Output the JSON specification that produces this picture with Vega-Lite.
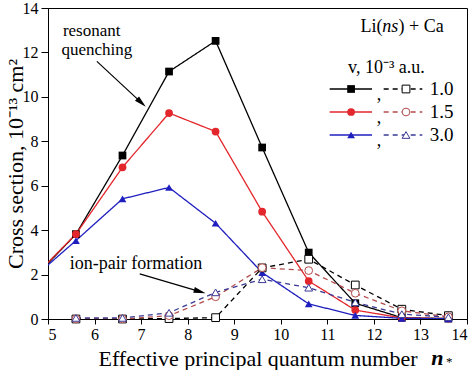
{
  "$schema": "https://vega.github.io/schema/vega-lite/v6.json",
  "width": 419,
  "height": 311,
  "autosize": {"type": "none"},
  "padding": {"left": 48, "top": 8, "right": 7, "bottom": 51},
  "config": {
    "font": "Liberation Serif",
    "view": {"stroke": "#000", "strokeWidth": 1},
    "axis": {
      "grid": false,
      "domainColor": "#000",
      "domainWidth": 1,
      "tickColor": "#000",
      "tickWidth": 1,
      "labelFont": "Liberation Serif",
      "labelFontSize": 16,
      "labelColor": "#000",
      "titleFont": "Liberation Serif",
      "titleFontSize": 22,
      "titleFontWeight": "normal",
      "titleColor": "#000"
    },
    "text": {"font": "Liberation Serif", "fontSize": 18, "color": "#000"}
  },
  "datasets": {
    "curves": [
      {"n": 4.6, "sigma": 1.62, "v": "1.0", "process": "quench", "series": "q1.0"},
      {"n": 5.6, "sigma": 3.82, "v": "1.0", "process": "quench", "series": "q1.0"},
      {"n": 6.6, "sigma": 7.36, "v": "1.0", "process": "quench", "series": "q1.0"},
      {"n": 7.6, "sigma": 11.14, "v": "1.0", "process": "quench", "series": "q1.0"},
      {"n": 8.6, "sigma": 12.52, "v": "1.0", "process": "quench", "series": "q1.0"},
      {"n": 9.6, "sigma": 7.72, "v": "1.0", "process": "quench", "series": "q1.0"},
      {"n": 10.6, "sigma": 2.99, "v": "1.0", "process": "quench", "series": "q1.0"},
      {"n": 11.6, "sigma": 0.71, "v": "1.0", "process": "quench", "series": "q1.0"},
      {"n": 12.6, "sigma": 0.06, "v": "1.0", "process": "quench", "series": "q1.0"},
      {"n": 13.6, "sigma": 0.02, "v": "1.0", "process": "quench", "series": "q1.0"},
      {"n": 4.6, "sigma": 1.7, "v": "1.5", "process": "quench", "series": "q1.5"},
      {"n": 5.6, "sigma": 3.82, "v": "1.5", "process": "quench", "series": "q1.5"},
      {"n": 6.6, "sigma": 6.83, "v": "1.5", "process": "quench", "series": "q1.5"},
      {"n": 7.6, "sigma": 9.27, "v": "1.5", "process": "quench", "series": "q1.5"},
      {"n": 8.6, "sigma": 8.44, "v": "1.5", "process": "quench", "series": "q1.5"},
      {"n": 9.6, "sigma": 4.83, "v": "1.5", "process": "quench", "series": "q1.5"},
      {"n": 10.6, "sigma": 1.71, "v": "1.5", "process": "quench", "series": "q1.5"},
      {"n": 11.6, "sigma": 0.4, "v": "1.5", "process": "quench", "series": "q1.5"},
      {"n": 12.6, "sigma": 0.05, "v": "1.5", "process": "quench", "series": "q1.5"},
      {"n": 13.6, "sigma": 0.02, "v": "1.5", "process": "quench", "series": "q1.5"},
      {"n": 4.6, "sigma": 1.7, "v": "3.0", "process": "quench", "series": "q3.0"},
      {"n": 5.6, "sigma": 3.53, "v": "3.0", "process": "quench", "series": "q3.0"},
      {"n": 6.6, "sigma": 5.41, "v": "3.0", "process": "quench", "series": "q3.0"},
      {"n": 7.6, "sigma": 5.92, "v": "3.0", "process": "quench", "series": "q3.0"},
      {"n": 8.6, "sigma": 4.31, "v": "3.0", "process": "quench", "series": "q3.0"},
      {"n": 9.6, "sigma": 2.09, "v": "3.0", "process": "quench", "series": "q3.0"},
      {"n": 10.6, "sigma": 0.68, "v": "3.0", "process": "quench", "series": "q3.0"},
      {"n": 11.6, "sigma": 0.16, "v": "3.0", "process": "quench", "series": "q3.0"},
      {"n": 12.6, "sigma": 0.03, "v": "3.0", "process": "quench", "series": "q3.0"},
      {"n": 13.6, "sigma": 0.01, "v": "3.0", "process": "quench", "series": "q3.0"},
      {"n": 5.6, "sigma": 0.0, "v": "1.0", "process": "ion", "series": "i1.0"},
      {"n": 6.6, "sigma": 0.0, "v": "1.0", "process": "ion", "series": "i1.0"},
      {"n": 7.6, "sigma": 0.02, "v": "1.0", "process": "ion", "series": "i1.0"},
      {"n": 8.6, "sigma": 0.06, "v": "1.0", "process": "ion", "series": "i1.0"},
      {"n": 9.6, "sigma": 2.3, "v": "1.0", "process": "ion", "series": "i1.0"},
      {"n": 10.6, "sigma": 2.69, "v": "1.0", "process": "ion", "series": "i1.0"},
      {"n": 11.6, "sigma": 1.53, "v": "1.0", "process": "ion", "series": "i1.0"},
      {"n": 12.6, "sigma": 0.44, "v": "1.0", "process": "ion", "series": "i1.0"},
      {"n": 13.6, "sigma": 0.15, "v": "1.0", "process": "ion", "series": "i1.0"},
      {"n": 5.6, "sigma": 0.0, "v": "1.5", "process": "ion", "series": "i1.5"},
      {"n": 6.6, "sigma": 0.0, "v": "1.5", "process": "ion", "series": "i1.5"},
      {"n": 7.6, "sigma": 0.15, "v": "1.5", "process": "ion", "series": "i1.5"},
      {"n": 8.6, "sigma": 1.0, "v": "1.5", "process": "ion", "series": "i1.5"},
      {"n": 9.6, "sigma": 2.31, "v": "1.5", "process": "ion", "series": "i1.5"},
      {"n": 10.6, "sigma": 2.18, "v": "1.5", "process": "ion", "series": "i1.5"},
      {"n": 11.6, "sigma": 1.16, "v": "1.5", "process": "ion", "series": "i1.5"},
      {"n": 12.6, "sigma": 0.37, "v": "1.5", "process": "ion", "series": "i1.5"},
      {"n": 13.6, "sigma": 0.1, "v": "1.5", "process": "ion", "series": "i1.5"},
      {"n": 5.6, "sigma": 0.05, "v": "3.0", "process": "ion", "series": "i3.0"},
      {"n": 6.6, "sigma": 0.05, "v": "3.0", "process": "ion", "series": "i3.0"},
      {"n": 7.6, "sigma": 0.28, "v": "3.0", "process": "ion", "series": "i3.0"},
      {"n": 8.6, "sigma": 1.2, "v": "3.0", "process": "ion", "series": "i3.0"},
      {"n": 9.6, "sigma": 1.79, "v": "3.0", "process": "ion", "series": "i3.0"},
      {"n": 10.6, "sigma": 1.41, "v": "3.0", "process": "ion", "series": "i3.0"},
      {"n": 11.6, "sigma": 0.75, "v": "3.0", "process": "ion", "series": "i3.0"},
      {"n": 12.6, "sigma": 0.22, "v": "3.0", "process": "ion", "series": "i3.0"},
      {"n": 13.6, "sigma": 0.08, "v": "3.0", "process": "ion", "series": "i3.0"}
    ],
    "legendRows": [
      {"v": "1.0", "qs": "q1.0", "is": "i1.0"},
      {"v": "1.5", "qs": "q1.5", "is": "i1.5"},
      {"v": "3.0", "qs": "q3.0", "is": "i3.0"}
    ]
  },
  "layer": [
    {
      "layer": [
        {
          "data": {"name": "curves"},
          "mark": {"type": "line", "clip": true, "strokeWidth": 1.3},
          "encoding": {
            "x": {
              "field": "n", "type": "quantitative",
              "scale": {"domain": [5, 14], "nice": false, "zero": false},
              "axis": {
                "values": [5, 6, 7, 8, 9, 10, 11, 12, 13, 14],
                "tickSize": 5, "labelPadding": 2,
                "labelFont": "Liberation Serif", "labelFontSize": 16,
                "titleFont": "Liberation Serif",
                "title": "Effective principal quantum number",
                "titleBaseline": "alphabetic", "titleY": 46
              }
            },
            "y": {
              "field": "sigma", "type": "quantitative",
              "scale": {"domain": [0, 14], "nice": false},
              "axis": {
                "values": [0, 1, 2, 3, 4, 5, 6, 7, 8, 9, 10, 11, 12, 13, 14],
                "labelExpr": "datum.value % 2 === 0 ? datum.label : ''",
                "tickSize": {"condition": {"test": "datum.value % 2 !== 0", "value": 4}, "value": 7},
                "labelPadding": 3,
                "labelFont": "Liberation Serif", "labelFontSize": 16,
                "titleFont": "Liberation Serif",
                "title": "Cross section, 10⁻¹³ cm²",
                "titleBaseline": "alphabetic", "titleX": -26
              }
            },
            "color": {
              "field": "series", "type": "nominal",
              "scale": {"domain": ["q1.0", "q1.5", "q3.0", "i1.0", "i1.5", "i3.0"], "range": ["#000000", "#e3262b", "#1f1fbf", "#000000", "#b24a4a", "#3a3a96"]},
              "legend": null
            },
            "strokeDash": {
              "field": "process", "type": "nominal",
              "scale": {"domain": ["quench", "ion"], "range": [[1, 0], [5, 4]]},
              "legend": null
            }
          }
        },
        {
          "data": {"name": "curves"},
          "transform": [{"filter": "datum.process === 'quench' && datum.n >= 5"}],
          "mark": {"type": "point", "filled": true, "opacity": 1, "size": 60},
          "encoding": {
            "x": {"field": "n", "type": "quantitative"},
            "y": {"field": "sigma", "type": "quantitative"},
            "color": {
              "field": "series", "type": "nominal",
              "scale": {"domain": ["q1.0", "q1.5", "q3.0", "i1.0", "i1.5", "i3.0"], "range": ["#000000", "#e3262b", "#1f1fbf", "#000000", "#b24a4a", "#3a3a96"]},
              "legend": null
            },
            "shape": {
              "field": "v", "type": "nominal",
              "scale": {"domain": ["1.0", "1.5", "3.0"], "range": ["square", "circle", "triangle-up"]},
              "legend": null
            }
          }
        },
        {
          "data": {"name": "curves"},
          "transform": [{"filter": "datum.process === 'ion'"}],
          "mark": {"type": "point", "filled": false, "fill": "white", "fillOpacity": 1, "opacity": 1, "size": 60, "strokeWidth": 1},
          "encoding": {
            "x": {"field": "n", "type": "quantitative"},
            "y": {"field": "sigma", "type": "quantitative"},
            "color": {
              "field": "series", "type": "nominal",
              "scale": {"domain": ["q1.0", "q1.5", "q3.0", "i1.0", "i1.5", "i3.0"], "range": ["#000000", "#e3262b", "#1f1fbf", "#000000", "#b24a4a", "#3a3a96"]},
              "legend": null
            },
            "shape": {
              "field": "v", "type": "nominal",
              "scale": {"domain": ["1.0", "1.5", "3.0"], "range": ["square", "circle", "triangle-up"]},
              "legend": null
            }
          }
        },
        {
          "data": {"values": [{}]},
          "mark": {"type": "rule", "strokeWidth": 1.2, "color": "#000"},
          "encoding": {"x": {"datum": 6.05}, "y": {"datum": 11.6}, "x2": {"datum": 7.05}, "y2": {"datum": 9.65}}
        },
        {
          "data": {"values": [{}]},
          "mark": {"type": "point", "shape": "M0,0L0.6,2.4L-0.6,2.4Z", "filled": true, "color": "#000", "opacity": 1, "size": 100, "angle": 133},
          "encoding": {"x": {"datum": 7.1}, "y": {"datum": 9.55}}
        },
        {
          "data": {"values": [{}]},
          "mark": {"type": "rule", "strokeWidth": 1.2, "color": "#000"},
          "encoding": {"x": {"datum": 6.97}, "y": {"datum": 2.03}, "x2": {"datum": 8.3}, "y2": {"datum": 1.21}}
        },
        {
          "data": {"values": [{}]},
          "mark": {"type": "point", "shape": "M0,0L0.6,2.4L-0.6,2.4Z", "filled": true, "color": "#000", "opacity": 1, "size": 100, "angle": 106},
          "encoding": {"x": {"datum": 8.385}, "y": {"datum": 1.16}}
        },
        {
          "data": {"values": [{}]},
          "mark": {"type": "text", "text": "resonant", "align": "left", "baseline": "alphabetic", "fontSize": 17},
          "encoding": {"x": {"datum": 5.32}, "y": {"datum": 12.72}}
        },
        {
          "data": {"values": [{}]},
          "mark": {"type": "text", "text": "quenching", "align": "left", "baseline": "alphabetic", "fontSize": 17},
          "encoding": {"x": {"datum": 5.29}, "y": {"datum": 11.88}}
        },
        {
          "data": {"values": [{}]},
          "mark": {"type": "text", "text": "ion-pair formation", "align": "left", "baseline": "alphabetic"},
          "encoding": {"x": {"datum": 5.467}, "y": {"datum": 2.24}}
        },
        {
          "data": {"values": [{}]},
          "mark": {"type": "text", "text": "Li(", "align": "left", "baseline": "alphabetic"},
          "encoding": {"x": {"datum": 11.71}, "y": {"datum": 12.91}}
        },
        {
          "data": {"values": [{}]},
          "mark": {"type": "text", "text": "ns", "align": "left", "baseline": "alphabetic", "fontStyle": "italic"},
          "encoding": {"x": {"datum": 12.18}, "y": {"datum": 12.91}}
        },
        {
          "data": {"values": [{}]},
          "mark": {"type": "text", "text": ") + Ca", "align": "left", "baseline": "alphabetic"},
          "encoding": {"x": {"datum": 12.53}, "y": {"datum": 12.91}}
        },
        {
          "data": {"values": [{}]},
          "mark": {"type": "text", "text": "v, 10⁻³ a.u.", "align": "left", "baseline": "alphabetic"},
          "encoding": {"x": {"datum": 11.445}, "y": {"datum": 11.09}}
        },
        {
          "data": {"values": [{}]},
          "mark": {"type": "text", "text": "n", "align": "left", "baseline": "alphabetic", "fontSize": 22, "fontStyle": "italic", "fontWeight": "bold"},
          "encoding": {"x": {"datum": 13.23}, "y": {"datum": -2.07}}
        },
        {
          "data": {"values": [{}]},
          "mark": {"type": "text", "text": "*", "align": "left", "baseline": "alphabetic", "fontSize": 13},
          "encoding": {"x": {"datum": 13.55}, "y": {"datum": -2.12}}
        }
      ]
    },
    {
      "data": {"name": "legendRows"},
      "encoding": {
        "y": {
          "field": "v", "type": "ordinal",
          "scale": {"type": "point", "domain": ["1.0", "1.5", "3.0"], "range": [81, 127], "padding": 0},
          "axis": null
        }
      },
      "layer": [
        {
          "mark": {"type": "rule", "strokeWidth": 1.3},
          "encoding": {
            "x": {"datum": 11.05}, "x2": {"datum": 11.96},
            "color": {
              "field": "qs", "type": "nominal",
              "scale": {"domain": ["q1.0", "q1.5", "q3.0", "i1.0", "i1.5", "i3.0"], "range": ["#000000", "#e3262b", "#1f1fbf", "#000000", "#b24a4a", "#3a3a96"]},
              "legend": null
            }
          }
        },
        {
          "mark": {"type": "point", "filled": true, "opacity": 1, "size": 60},
          "encoding": {
            "x": {"datum": 11.51},
            "color": {
              "field": "qs", "type": "nominal",
              "scale": {"domain": ["q1.0", "q1.5", "q3.0", "i1.0", "i1.5", "i3.0"], "range": ["#000000", "#e3262b", "#1f1fbf", "#000000", "#b24a4a", "#3a3a96"]},
              "legend": null
            },
            "shape": {
              "field": "v", "type": "nominal",
              "scale": {"domain": ["1.0", "1.5", "3.0"], "range": ["square", "circle", "triangle-up"]},
              "legend": null
            }
          }
        },
        {
          "mark": {"type": "text", "text": ",", "align": "center", "baseline": "middle", "dy": 6},
          "encoding": {"x": {"datum": 12.11}}
        },
        {
          "mark": {"type": "rule", "strokeWidth": 1.3, "strokeDash": [5, 4]},
          "encoding": {
            "x": {"datum": 12.21}, "x2": {"datum": 13.04},
            "color": {
              "field": "is", "type": "nominal",
              "scale": {"domain": ["q1.0", "q1.5", "q3.0", "i1.0", "i1.5", "i3.0"], "range": ["#000000", "#e3262b", "#1f1fbf", "#000000", "#b24a4a", "#3a3a96"]},
              "legend": null
            }
          }
        },
        {
          "mark": {"type": "point", "filled": false, "fill": "white", "fillOpacity": 1, "opacity": 1, "size": 60, "strokeWidth": 1},
          "encoding": {
            "x": {"datum": 12.69},
            "color": {
              "field": "is", "type": "nominal",
              "scale": {"domain": ["q1.0", "q1.5", "q3.0", "i1.0", "i1.5", "i3.0"], "range": ["#000000", "#e3262b", "#1f1fbf", "#000000", "#b24a4a", "#3a3a96"]},
              "legend": null
            },
            "shape": {
              "field": "v", "type": "nominal",
              "scale": {"domain": ["1.0", "1.5", "3.0"], "range": ["square", "circle", "triangle-up"]},
              "legend": null
            }
          }
        },
        {
          "mark": {"type": "text", "align": "left", "baseline": "middle", "fontSize": 19},
          "encoding": {"x": {"datum": 13.2}, "text": {"field": "v", "type": "nominal"}}
        }
      ]
    }
  ],
  "resolve": {"scale": {"y": "independent"}}
}
